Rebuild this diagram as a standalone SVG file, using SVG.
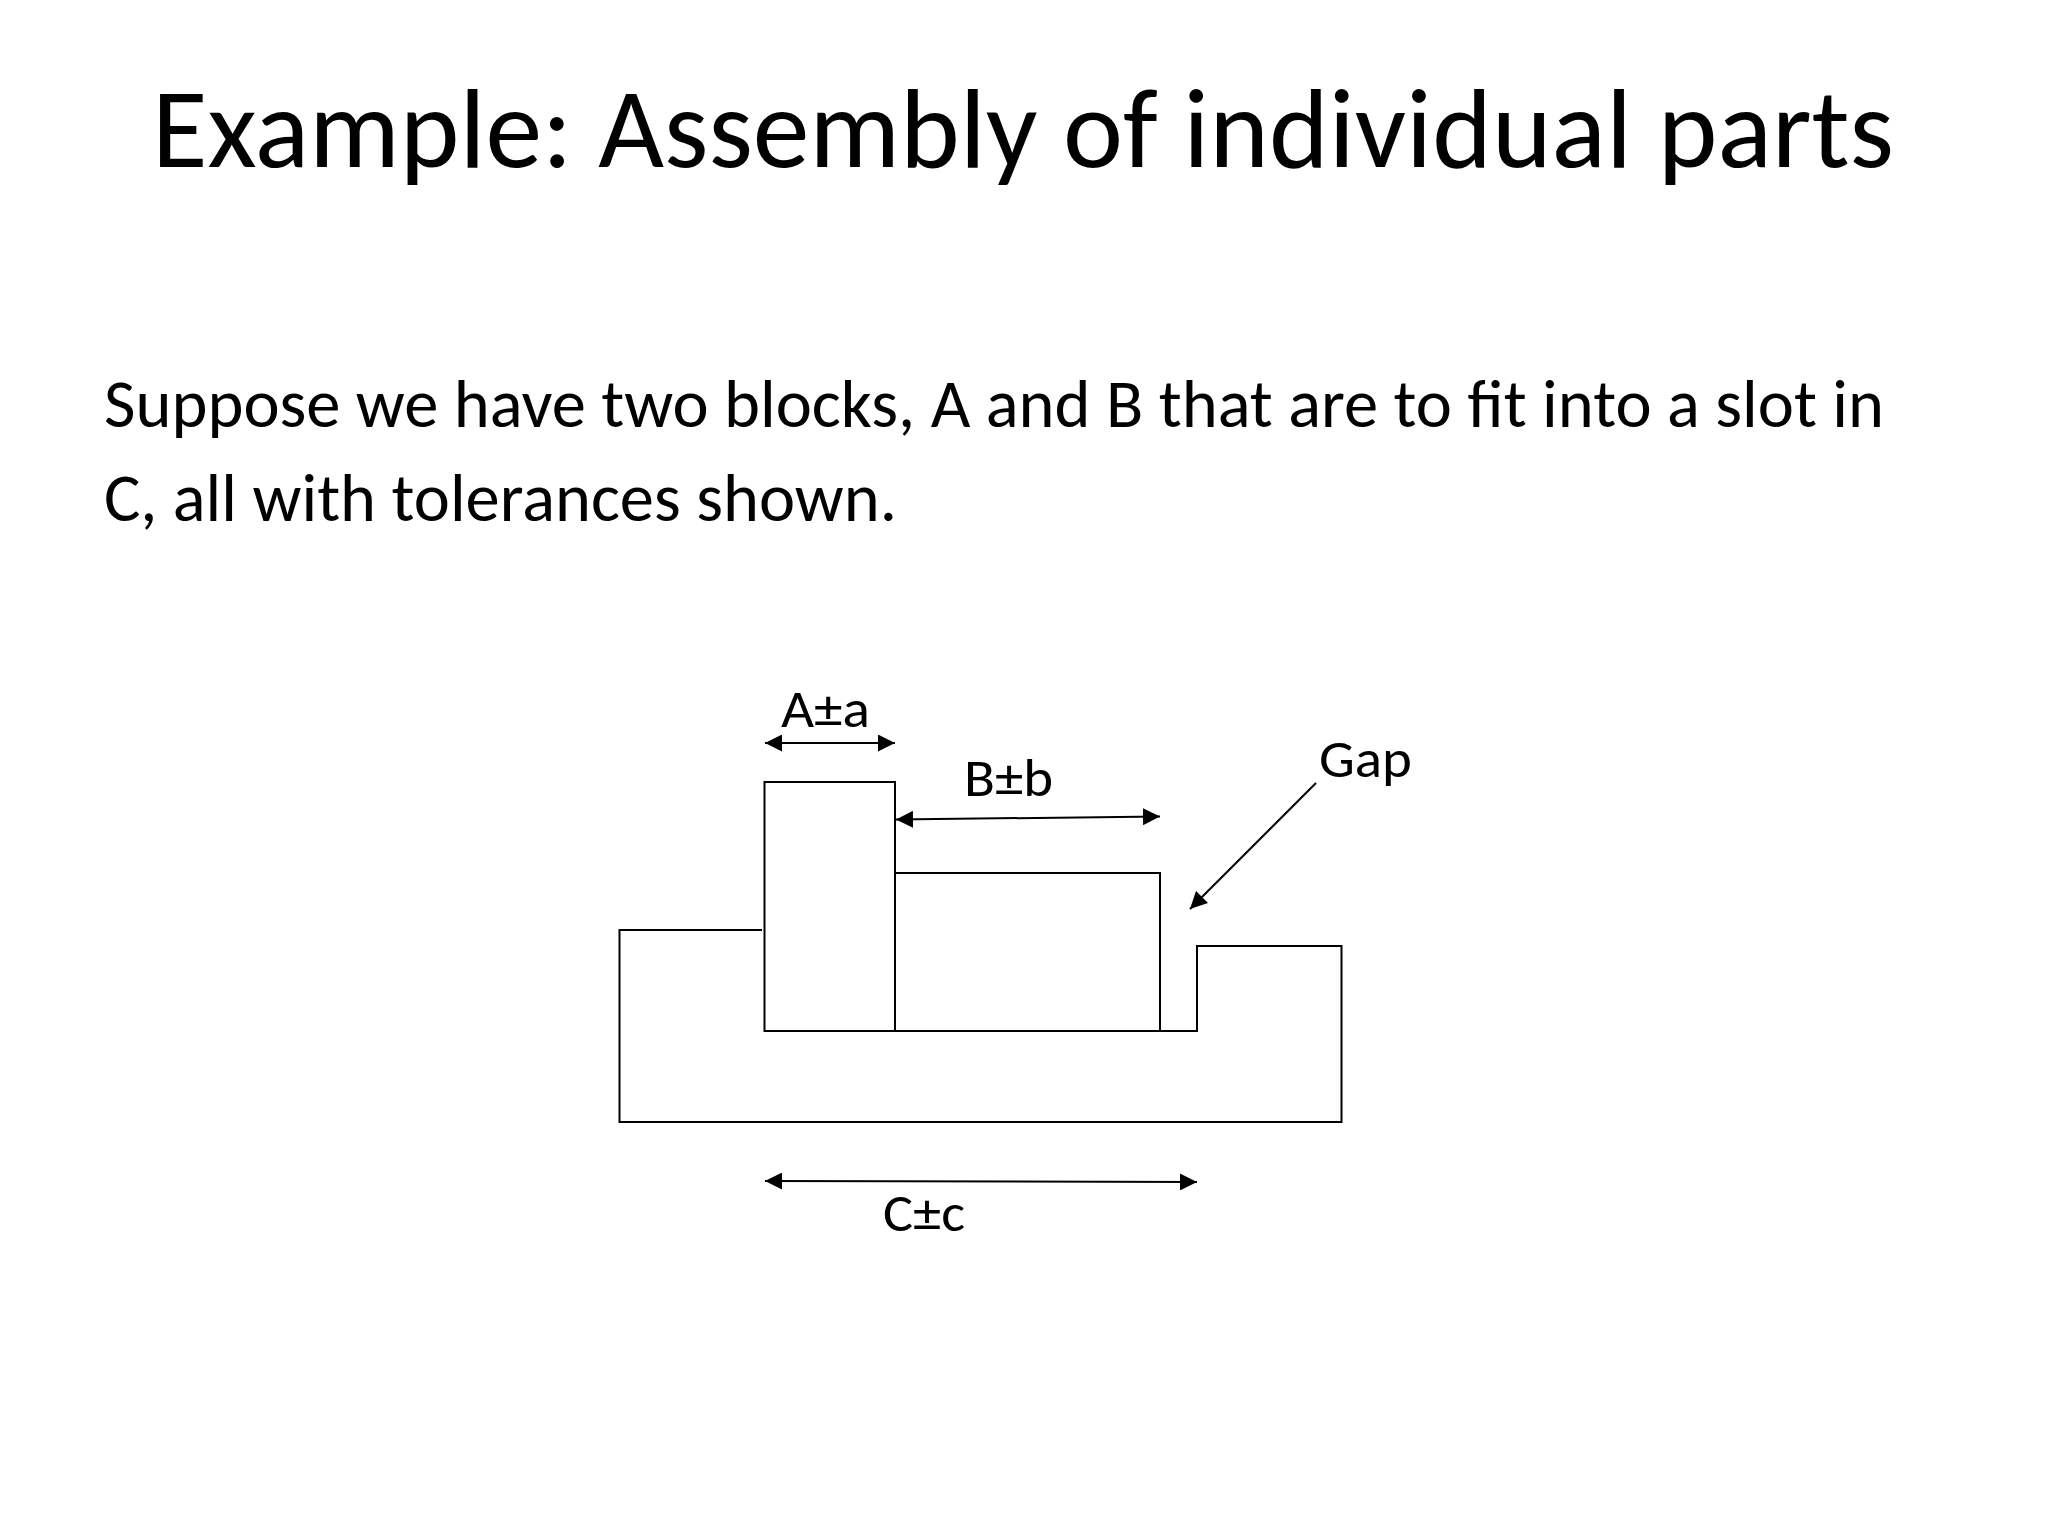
<svg xmlns="http://www.w3.org/2000/svg" width="2048" height="1536" viewBox="0 0 2048 1536">
<style>
text{font-family:Carlito,Lato,"Liberation Sans",sans-serif;fill:#000}
.title{font-size:113px}
.body{font-size:67px}
.label{font-size:54px}
.shape{fill:none;stroke:#000;stroke-width:2}
.conn{fill:none;stroke:#000;stroke-width:2;marker-start:url(#h);marker-end:url(#h)}
.single{fill:none;stroke:#000;stroke-width:2;marker-end:url(#h)}
</style>
<defs>
<marker id="h" viewBox="0 0 17 17" refX="17" refY="8.5" markerWidth="17" markerHeight="17" markerUnits="userSpaceOnUse" orient="auto-start-reverse"><path d="M0 0L17 8.5L0 17Z" fill="#000"/></marker>
</defs>
<rect width="2048" height="1536" fill="#fff"/>
<text class="title" x="152" y="167" textLength="1742" lengthAdjust="spacingAndGlyphs">Example: Assembly of individual parts</text>
<text class="body" x="104" y="427" textLength="1780" lengthAdjust="spacingAndGlyphs">Suppose we have two blocks, A and B that are to fit into a slot in</text>
<text class="body" x="104" y="521" textLength="793" lengthAdjust="spacingAndGlyphs">C, all with tolerances shown.</text>
<g id="block-c"><path class="shape" d="M762 930H619.500V1122H1341.500V946H1197V1031H1160"/></g>
<g id="block-a"><rect class="shape" x="764.500" y="782" width="130.500" height="249"/></g>
<g id="block-b"><path class="shape" d="M895 873H1160V1031H895"/></g>
<g id="connectors">
<path class="conn" d="M765 743H895"/>
<path class="conn" d="M896 819.500L1160 816.500"/>
<path class="conn" d="M765 1181L1197 1182"/>
<path class="single" d="M1316 783L1190 909"/>
</g>
<g id="labels">
<text class="label" x="781" y="727" textLength="89" lengthAdjust="spacingAndGlyphs">A±a</text>
<text class="label" x="964" y="796" textLength="89" lengthAdjust="spacingAndGlyphs">B±b</text>
<text class="label" x="1319" y="777" textLength="93" lengthAdjust="spacingAndGlyphs">Gap</text>
<text class="label" x="883" y="1231" textLength="82" lengthAdjust="spacingAndGlyphs">C±c</text>
</g>
</svg>
